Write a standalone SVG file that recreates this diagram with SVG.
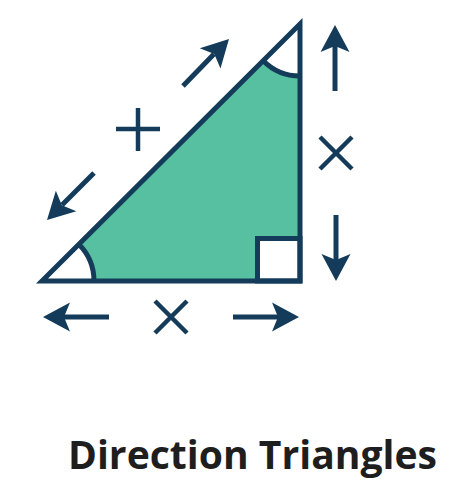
<svg xmlns="http://www.w3.org/2000/svg" width="474" height="498" viewBox="0 0 474 498">
  <style>
    .ink { stroke: #143c5a; fill: none; stroke-width: 5; }
    .sym { stroke: #143c5a; fill: none; stroke-width: 4.5; stroke-linecap: butt; }
    .head { fill: #143c5a; stroke: none; }
    .title { font-family: "Open Sans", "Liberation Sans", sans-serif; font-weight: 700; font-size: 40px; fill: #1e1e1e; }
  </style>
  <defs>
    <path id="ah" d="M0,0 L-27,-14.5 L-21,0 L-27,14.5 Z"/>
  </defs>
  <rect width="474" height="498" fill="#ffffff"/>

  <g id="triangle">
    <polygon points="42,281 300,24 300,281" fill="#57c0a0"/>
    <path d="M42,281 L94,281 A52,52 0 0 0 78.8,244.3 Z" fill="#ffffff"/>
    <path d="M300,24 L263.2,60.7 A52,52 0 0 0 300,76 Z" fill="#ffffff"/>
    <path class="ink" d="M94,281 A52,52 0 0 0 78.8,244.3"/>
    <path class="ink" d="M263.2,60.7 A52,52 0 0 0 300,76"/>
    <rect class="ink" x="257.5" y="238.5" width="42.5" height="42.5" fill="#ffffff" style="fill:#ffffff"/>
    <polygon class="ink" points="42,281 300,24 300,281" stroke-linejoin="miter"/>
  </g>

  <g id="connectors">
    <g id="arrow-up-right">
      <line class="ink" x1="183" y1="86" x2="214" y2="54"/>
      <use href="#ah" class="head" transform="translate(229,39) rotate(-45.6)"/>
    </g>
    <g id="arrow-down-left">
      <line class="ink" x1="94" y1="173" x2="62" y2="205"/>
      <use href="#ah" class="head" transform="translate(47,220) rotate(135)"/>
    </g>
    <g id="arrow-up">
      <line class="ink" x1="335" y1="91" x2="335" y2="44"/>
      <use href="#ah" class="head" transform="translate(335,25) rotate(-90)"/>
    </g>
    <g id="arrow-down">
      <line class="ink" x1="336" y1="215" x2="336" y2="262"/>
      <use href="#ah" class="head" transform="translate(336,281) rotate(90)"/>
    </g>
    <g id="arrow-left">
      <line class="ink" x1="109" y1="317" x2="62" y2="317"/>
      <use href="#ah" class="head" transform="translate(43,317) rotate(180)"/>
    </g>
    <g id="arrow-right">
      <line class="ink" x1="233" y1="317" x2="280" y2="317"/>
      <use href="#ah" class="head" transform="translate(299,317)"/>
    </g>
  </g>

  <g id="plus">
    <path class="sym" d="M116,129 H160 M138,108 V151"/>
  </g>
  <g id="times-right">
    <path class="sym" d="M320,137 L352,169 M352,137 L320,169"/>
  </g>
  <g id="times-bottom">
    <path class="sym" d="M155,301 L187,333 M187,301 L155,333"/>
  </g>

  <g id="title">
    <text class="title" x="68" y="469" textLength="369" lengthAdjust="spacingAndGlyphs">Direction Triangles</text>
  </g>
</svg>
